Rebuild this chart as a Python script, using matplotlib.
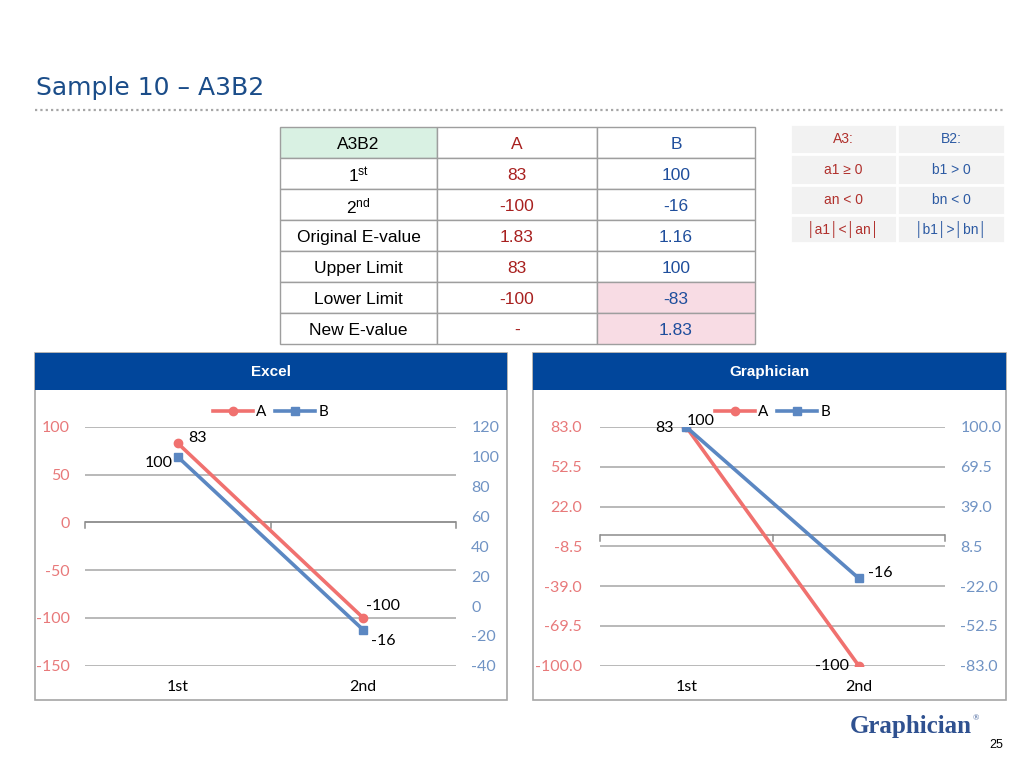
import matplotlib.pyplot as plt
from matplotlib.patches import Rectangle

# data
categories = ['1st', '2nd']
series_a = [83, -100]
series_b = [100, -16]

excel_left_ticks = [-150, -100, -50, 0, 50, 100]
excel_right_ticks = [-40, -20, 0, 20, 40, 60, 80, 100, 120]
graph_left_ticks = [-100.0, -69.5, -39.0, -8.5, 22.0, 52.5, 83.0]
graph_right_ticks = [-83.0, -52.5, -22.0, 8.5, 39.0, 69.5, 100.0]

table_header = ['A3B2', 'A', 'B']
table_rows = [r'$\mathregular{1^{st}}$', r'$\mathregular{2^{nd}}$', 'Original E-value',
              'Upper Limit', 'Lower Limit', 'New E-value']
table_a = ['83', '-100', '1.83', '83', '-100', '-']
table_b = ['100', '-16', '1.16', '100', '-83', '1.83']
pink_rows = [4, 5]

cond_a = ['A3:', 'a1 ≥ 0', 'an < 0', '│a1│<│an│']
cond_b = ['B2:', 'b1 > 0', 'bn < 0', '│b1│>│bn│']

COL_A = '#F0716F'
COL_B = '#5B87C2'
TICK_A = '#E8797A'
TICK_B = '#7093C4'
DARK_RED = '#A8201F'
DARK_BLUE = '#1F4E9C'
HEAD_BLUE = '#01469B'
W, H = 1024, 768

fig = plt.figure(figsize=(10.24, 7.68), dpi=100)
fig.patch.set_facecolor('white')

# overlay for slide decorations, in pixel coords
deco = fig.add_axes([0, 0, 1, 1], zorder=0)
deco.set_xlim(0, W)
deco.set_ylim(H, 0)
deco.axis('off')

deco.text(36, 88, 'Sample 10 – A3B2', fontsize=18, color='#1B4D89',
          family='DejaVu Sans', va='center', ha='left')
deco.plot([35, 1005], [110, 110], color='#A6A6A6', lw=1.6, linestyle=(0, (1, 1.4)))

# main table
col_x = [280, 437, 597, 755]
row_y = [127, 158, 189, 220, 251, 282, 313, 344]
tfont = ['Liberation Sans', 'DejaVu Sans']
for r in range(7):
    for c in range(3):
        fc = 'white'
        if r == 0 and c == 0:
            fc = '#D9F1E3'
        if c == 2 and (r - 1) in pink_rows:
            fc = '#F8DCE4'
        deco.add_patch(Rectangle((col_x[c], row_y[r]), col_x[c + 1] - col_x[c],
                                 row_y[r + 1] - row_y[r], facecolor=fc,
                                 edgecolor='#9E9E9E', lw=1))
cols_txt = [[table_header[0]] + table_rows,
            [table_header[1]] + table_a,
            [table_header[2]] + table_b]
cols_clr = ['black', DARK_RED, DARK_BLUE]
for c in range(3):
    for r in range(7):
        deco.text((col_x[c] + col_x[c + 1]) / 2, (row_y[r] + row_y[r + 1]) / 2 + 2,
                  cols_txt[c][r], ha='center', va='center', fontsize=12.5,
                  color=cols_clr[c], family=tfont)

# condition table
cx = [790, 897, 1005]
cy = [124, 154, 185, 215, 243]
for r in range(4):
    for c in range(2):
        deco.add_patch(Rectangle((cx[c], cy[r]), cx[c + 1] - cx[c], cy[r + 1] - cy[r],
                                 facecolor='#F2F2F2', edgecolor='white', lw=2))
    deco.text((cx[0] + cx[1]) / 2, (cy[r] + cy[r + 1]) / 2, cond_a[r], ha='center',
              va='center', fontsize=10, color='#B0302C', family=tfont)
    deco.text((cx[1] + cx[2]) / 2, (cy[r] + cy[r + 1]) / 2, cond_b[r], ha='center',
              va='center', fontsize=10, color='#2C5AA3', family=tfont)

# panels
for x0, x1, title in [(35, 507, 'Excel'), (533, 1006, 'Graphician')]:
    deco.add_patch(Rectangle((x0, 353), x1 - x0, 347, facecolor='white',
                             edgecolor='#A6A6A6', lw=1.2))
    deco.add_patch(Rectangle((x0, 353), x1 - x0, 37, facecolor=HEAD_BLUE,
                             edgecolor='none'))
    deco.text((x0 + x1) / 2, 372, title, ha='center', va='center', color='white',
              fontsize=11, fontweight='bold', family=tfont)

deco.text(911, 727, 'Graphician', ha='center', va='center', fontsize=18,
          fontweight='bold', color='#2F5190', family='Liberation Serif')
deco.text(972.5, 718, '®', ha='left', va='center', fontsize=6, color='#2F5190',
          family='Liberation Serif')
deco.text(996, 745, '25', ha='center', va='center', fontsize=9, color='black',
          family=tfont)


def make_chart(px0, px1, left_ticks, right_ticks, fmt, labels_a, labels_b, lpad, rpad):
    rect = [px0 / W, 1 - 665.7 / H, (px1 - px0) / W, (665.7 - 427) / H]
    ax = fig.add_axes(rect, zorder=2)
    ax2 = ax.twinx()
    x = list(range(len(categories)))
    la, = ax.plot(x, series_a, color=COL_A, lw=2.6, marker='o', ms=6, label='A', zorder=3)
    lb, = ax2.plot(x, series_b, color=COL_B, lw=2.6, marker='s', ms=6, label='B', zorder=3)
    ax.set_xlim(-0.5, len(categories) - 0.5)
    ax.set_ylim(left_ticks[0], left_ticks[-1])
    ax2.set_ylim(right_ticks[0], right_ticks[-1])
    ax.set_yticks(left_ticks)
    ax2.set_yticks(right_ticks)
    ax.set_yticklabels([fmt.format(v) for v in left_ticks])
    ax2.set_yticklabels([fmt.format(v) for v in right_ticks])
    ax.set_xticks(x)
    ax.set_xticklabels(categories)
    for a in (ax, ax2):
        for s in a.spines.values():
            s.set_visible(False)
        a.patch.set_visible(False)
    ax.tick_params(axis='x', length=0, pad=10, labelsize=11.5, labelcolor='black')
    ax.tick_params(axis='y', length=0, pad=lpad, labelsize=11.5, labelcolor=TICK_A)
    ax2.tick_params(axis='y', length=0, pad=rpad, labelsize=11.5, labelcolor=TICK_B)
    for t in ax.get_xticklabels() + ax.get_yticklabels() + ax2.get_yticklabels():
        t.set_family('Lato')
    ax.yaxis.grid(True, color='#A6A6A6', lw=1.1)
    ax.set_axisbelow(True)
    # category axis at zero with boundary ticks
    ax.axhline(0, color='#8C8C8C', lw=1.1, zorder=1)
    span = left_ticks[-1] - left_ticks[0]
    for k in range(len(categories) + 1):
        ax.plot([k - 0.5, k - 0.5], [0, -span * 0.022], color='#8C8C8C', lw=1.1,
                zorder=1, clip_on=False)
    # data labels
    for i, (v, off) in enumerate(zip(series_a, labels_a)):
        ax.annotate(str(v), (x[i], v), xytext=off, textcoords='offset pixels',
                    ha='center', va='center', fontsize=11.5, family='Lato', zorder=4)
    for i, (v, off) in enumerate(zip(series_b, labels_b)):
        ax2.annotate(str(v), (x[i], v), xytext=off, textcoords='offset pixels',
                     ha='center', va='center', fontsize=11.5, family='Lato', zorder=4)
    ax.legend([la, lb], ['A', 'B'], loc='center', bbox_to_anchor=(0.5, 1.063), ncol=2,
              frameon=False, handlelength=2.6, columnspacing=0.6, handletextpad=0.2,
              prop={'family': 'Lato', 'size': 11})
    return ax


make_chart(85, 456, excel_left_ticks, excel_right_ticks, '{:g}',
           [(20, 5), (20, 12)], [(-19, -6), (20, -11)], 11, 11)
make_chart(600, 945, graph_left_ticks, graph_right_ticks, '{:.1f}',
           [(-22, -1), (-27, 0)], [(14, 6), (22, 5)], 13, 11)

fig.savefig('out.png', dpi=100)
